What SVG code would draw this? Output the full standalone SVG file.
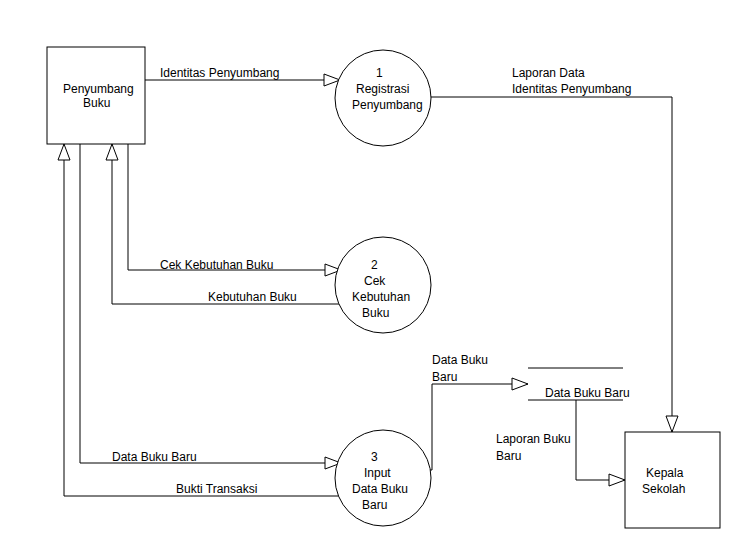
<svg xmlns="http://www.w3.org/2000/svg" width="745" height="553" viewBox="0 0 745 553">
<style>
.s{fill:#fff;stroke:#000;stroke-width:1}
.c{fill:none;stroke:#000;stroke-width:1}
text{font-family:"Liberation Sans",Arial,sans-serif;font-size:12px;fill:#000}
</style>
<defs>
<marker id="a" markerWidth="18" markerHeight="14" refX="17" refY="7" orient="auto" markerUnits="userSpaceOnUse">
<path d="M1,1 L17,7 L1,13 Z" fill="#fff" stroke="#000"/>
</marker>
</defs>
<rect width="745" height="553" fill="#fff"/>
<g id="connectors">
<path class="c" d="M145,80 H340" marker-end="url(#a)"/>
<path class="c" d="M431,97 H672 V432" marker-end="url(#a)"/>
<path class="c" d="M128,144 V270 H341" marker-end="url(#a)"/>
<path class="c" d="M345,304 H112 V144" marker-end="url(#a)"/>
<path class="c" d="M80,144 V463 H341" marker-end="url(#a)"/>
<path class="c" d="M345,496 H64 V144" marker-end="url(#a)"/>
<path class="c" d="M430,470 H432 V384 H528" marker-end="url(#a)"/>
<path class="c" d="M576,400 V480 H625" marker-end="url(#a)"/>
<text x="160" y="77">Identitas Penyumbang</text>
<text x="512" y="77">Laporan Data</text>
<text x="512" y="93">Identitas Penyumbang</text>
<text x="160" y="269">Cek Kebutuhan Buku</text>
<text x="208" y="301">Kebutuhan Buku</text>
<text x="112" y="461">Data Buku Baru</text>
<text x="176" y="493">Bukti Transaksi</text>
<text x="432" y="364">Data Buku</text>
<text x="432" y="381">Baru</text>
<text x="496" y="443">Laporan Buku</text>
<text x="496" y="460">Baru</text>
</g>
<g id="penyumbang">
<rect class="s" x="47" y="47" width="98" height="97"/>
<text x="63" y="93">Penyumbang</text>
<text x="83" y="107">Buku</text>
</g>
<g id="p1">
<circle class="s" cx="383" cy="98" r="48"/>
<text x="376" y="77">1</text>
<text x="356" y="93">Registrasi</text>
<text x="352" y="109">Penyumbang</text>
</g>
<g id="p2">
<circle class="s" cx="383" cy="285" r="48"/>
<text x="371" y="269">2</text>
<text x="364" y="285">Cek</text>
<text x="352" y="301">Kebutuhan</text>
<text x="362" y="317">Buku</text>
</g>
<g id="p3">
<circle class="s" cx="383" cy="478" r="48"/>
<text x="371" y="461">3</text>
<text x="364" y="477">Input</text>
<text x="352" y="493">Data Buku</text>
<text x="362" y="509">Baru</text>
</g>
<g id="store">
<line class="c" x1="528" y1="368" x2="623" y2="368"/>
<line class="c" x1="528" y1="400" x2="623" y2="400"/>
<text x="545" y="397">Data Buku Baru</text>
</g>
<g id="kepala">
<rect class="s" x="625" y="432" width="95" height="96"/>
<text x="646" y="477">Kepala</text>
<text x="642" y="493">Sekolah</text>
</g>
</svg>
